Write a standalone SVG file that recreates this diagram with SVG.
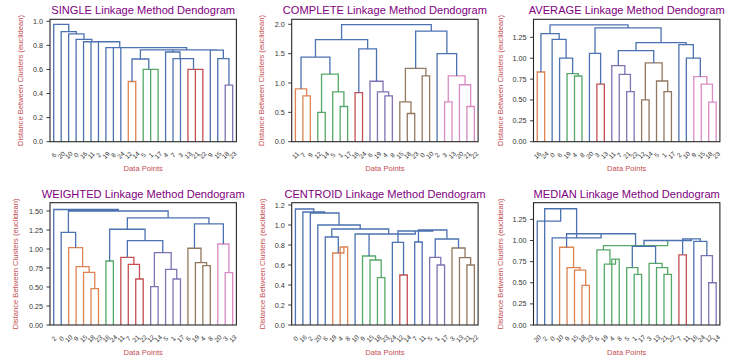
<svg xmlns="http://www.w3.org/2000/svg" width="737" height="364" viewBox="0 0 737 364">
<style>
text{font-family:"Liberation Sans",Arial,sans-serif}
.bg{fill:#fff}
.ax{fill:none;stroke:#262626;stroke-width:1.1}
.tm{fill:none;stroke:#262626;stroke-width:0.9}
.l{fill:none;stroke-width:1.3;vector-effect:non-scaling-stroke}
.c0{stroke:#4C72B0}.c1{stroke:#DD8452}.c2{stroke:#55A868}.c3{stroke:#C44E52}.c4{stroke:#8172B3}.c5{stroke:#937860}.c6{stroke:#DA8BC3}
.t{font-size:11.1px;fill:#800080;text-anchor:middle}
.al{font-size:7.6px;fill:#c44e52;text-anchor:middle}
.tk{font-size:7.2px;fill:#333;text-anchor:end}
.lf{font-size:6.5px;fill:#333;text-anchor:middle;dominant-baseline:central}
</style>
<rect class="bg" width="737" height="364"/>

<!-- SINGLE -->
<g id="single">
<text class="t" x="143.2" y="14.3">SINGLE Linkage Method Dendogram</text>
<g id="single-links" transform="matrix(7.456 0 0 -120.4 53.728 141.7)">
<path class="l c4" d="M23 0V.47H24V0"/>
<path class="l c1" d="M10 0V.5H11V0"/>
<path class="l c2" d="M13 0V.6H14V0M12 0V.6H13.5V.6"/>
<path class="l c3" d="M19 0V.6H20V0M18 0V.6H19.5V.6"/>
<path class="l c0" d="M10.5 .5V.687H12.75V.6M22 0V.69H23.5V.47M17 0V.69H18.75V.6M16 0V.69H17.875V.69M15 0V.745H16.938V.69M21 0V.76H22.75V.69M11.625 .687V.762H15.969V.745M13.797 .762V.762H21.875V.76M9 0V.781H17.836V.762M8 0V.781H13.418V.781M7 0V.781H10.709V.781M6 0V.83H8.855V.781M5 0V.83H7.427V.83M4 0V.83H6.214V.83M3 0V.85H5.107V.83M2 0V.895H4.053V.85M1 0V.914H3.027V.895M0 0V.975H2.013V.914"/>
</g>
<rect class="ax" x="50" y="19.3" width="186.4" height="122.4"/>
<path class="tm" d="M46.5 141.7H50M46.5 117.6H50M46.5 93.5H50M46.5 69.5H50M46.5 45.4H50M46.5 21.3H50"/>
<g class="tk"><text x="43" y="144.2">0.0</text><text x="43" y="120.1">0.2</text><text x="43" y="96">0.4</text><text x="43" y="72">0.6</text><text x="43" y="47.9">0.8</text><text x="43" y="23.8">1.0</text></g>
<text class="al" transform="translate(23.4 80.5) rotate(-90)">Distance Between Clusters (euclidean)</text>
<text class="al" x="143.2" y="171">Data Points</text>
<g class="lf" transform="translate(53.73 155)">
<text transform="translate(0 0) rotate(-45)">6</text><text transform="translate(7.46 0) rotate(-45)">20</text><text transform="translate(14.91 0) rotate(-45)">10</text><text transform="translate(22.37 0) rotate(-45)">0</text><text transform="translate(29.82 0) rotate(-45)">16</text><text transform="translate(37.28 0) rotate(-45)">11</text><text transform="translate(44.74 0) rotate(-45)">2</text><text transform="translate(52.19 0) rotate(-45)">19</text><text transform="translate(59.65 0) rotate(-45)">8</text><text transform="translate(67.1 0) rotate(-45)">24</text><text transform="translate(74.56 0) rotate(-45)">12</text><text transform="translate(82.02 0) rotate(-45)">14</text><text transform="translate(89.47 0) rotate(-45)">5</text><text transform="translate(96.93 0) rotate(-45)">1</text><text transform="translate(104.38 0) rotate(-45)">17</text><text transform="translate(111.84 0) rotate(-45)">4</text><text transform="translate(119.3 0) rotate(-45)">7</text><text transform="translate(126.75 0) rotate(-45)">3</text><text transform="translate(134.21 0) rotate(-45)">13</text><text transform="translate(141.66 0) rotate(-45)">21</text><text transform="translate(149.12 0) rotate(-45)">22</text><text transform="translate(156.58 0) rotate(-45)">9</text><text transform="translate(164.03 0) rotate(-45)">15</text><text transform="translate(171.49 0) rotate(-45)">18</text><text transform="translate(178.94 0) rotate(-45)">23</text>
</g>
</g>

<!-- COMPLETE -->
<g id="complete">
<text class="t" x="384.9" y="14.3">COMPLETE Linkage Method Dendogram</text>
<g id="complete-links" transform="matrix(7.456 0 0 -58.7 295.428 141.7)">
<path class="l c1" d="M1 0V.78H2V0M0 0V.9H1.5V.78"/>
<path class="l c2" d="M3 0V.5H4V0M6 0V.6H7V0M5 0V.85H6.5V.6M3.5 .5V1.15H5.75V.85"/>
<path class="l c3" d="M8 0V.835H9V0"/>
<path class="l c4" d="M12 0V.78H13V0M11 0V.85H12.5V.78M10 0V1.03H11.75V.85"/>
<path class="l c5" d="M15 0V.48H16V0M14 0V.68H15.5V.48M17 0V1.12H18V0M14.75 .68V1.25H17.5V1.12"/>
<path class="l c6" d="M20 0V.68H21V0M23 0V.6H24V0M22 0V.97H23.5V.6M20.5 .68V1.12H22.75V.97"/>
<path class="l c0" d="M.75 .9V1.44H4.625V1.15M8.5 .835V1.58H10.875V1.03M2.688 1.44V1.74H9.688V1.58M19 0V1.5H21.625V1.12M16.125 1.25V1.885H20.313V1.5M6.188 1.74V1.995H18.219V1.885"/>
</g>
<rect class="ax" x="291.7" y="19.3" width="186.4" height="122.4"/>
<path class="tm" d="M288.2 141.7H291.7M288.2 112.35H291.7M288.2 83H291.7M288.2 53.65H291.7M288.2 24.3H291.7"/>
<g class="tk"><text x="284.7" y="144.2">0.0</text><text x="284.7" y="114.85">0.5</text><text x="284.7" y="85.5">1.0</text><text x="284.7" y="56.15">1.5</text><text x="284.7" y="26.8">2.0</text></g>
<text class="al" transform="translate(264.4 80.5) rotate(-90)">Distance Between Clusters (euclidean)</text>
<text class="al" x="384.9" y="171">Data Points</text>
<g class="lf" transform="translate(295.43 155)">
<text transform="translate(0 0) rotate(-45)">11</text><text transform="translate(7.46 0) rotate(-45)">7</text><text transform="translate(14.91 0) rotate(-45)">9</text><text transform="translate(22.37 0) rotate(-45)">12</text><text transform="translate(29.82 0) rotate(-45)">14</text><text transform="translate(37.28 0) rotate(-45)">5</text><text transform="translate(44.74 0) rotate(-45)">1</text><text transform="translate(52.19 0) rotate(-45)">17</text><text transform="translate(59.65 0) rotate(-45)">16</text><text transform="translate(67.1 0) rotate(-45)">24</text><text transform="translate(74.56 0) rotate(-45)">6</text><text transform="translate(82.02 0) rotate(-45)">19</text><text transform="translate(89.47 0) rotate(-45)">4</text><text transform="translate(96.93 0) rotate(-45)">8</text><text transform="translate(104.38 0) rotate(-45)">15</text><text transform="translate(111.84 0) rotate(-45)">18</text><text transform="translate(119.3 0) rotate(-45)">23</text><text transform="translate(126.75 0) rotate(-45)">0</text><text transform="translate(134.21 0) rotate(-45)">10</text><text transform="translate(141.66 0) rotate(-45)">2</text><text transform="translate(149.12 0) rotate(-45)">3</text><text transform="translate(156.58 0) rotate(-45)">13</text><text transform="translate(164.03 0) rotate(-45)">20</text><text transform="translate(171.49 0) rotate(-45)">21</text><text transform="translate(178.94 0) rotate(-45)">22</text>
</g>
</g>

<!-- AVERAGE -->
<g id="average">
<text class="t" x="626.7" y="14.3">AVERAGE Linkage Method Dendogram</text>
<g id="average-links" transform="matrix(7.456 0 0 -83.5 537.228 141.7)">
<path class="l c1" d="M0 0V.835H1V0"/>
<path class="l c2" d="M5 0V.787H6V0M4 0V.815H5.5V.787"/>
<path class="l c3" d="M8 0V.69H9V0"/>
<path class="l c4" d="M12 0V.6H13V0M11 0V.807H12.5V.6M10 0V.91H11.75V.807"/>
<path class="l c5" d="M14 0V.5H15V0M17 0V.6H18V0M16 0V.727H17.5V.6M14.5 .5V.943H16.75V.727"/>
<path class="l c6" d="M23 0V.475H24V0M22 0V.69H23.5V.475M21 0V.779H22.75V.69"/>
<path class="l c0" d="M3 0V1H4.75V.815M2 0V1.226H3.875V1M.5 .835V1.294H2.938V1.226M7 0V1.058H8.5V.69M10.875 .91V1.09H15.625V.943M20 0V1H21.875V.779M19 0V1.162H20.938V1M13.25 1.09V1.186H19.969V1.162M7.75 1.058V1.362H16.609V1.186M1.719 1.294V1.4H12.18V1.362"/>
</g>
<rect class="ax" x="533.5" y="19.3" width="186.4" height="122.4"/>
<path class="tm" d="M530 141.7H533.5M530 120.8H533.5M530 99.95H533.5M530 79.1H533.5M530 58.2H533.5M530 37.3H533.5"/>
<g class="tk"><text x="526.5" y="144.2">0.00</text><text x="526.5" y="123.3">0.25</text><text x="526.5" y="102.45">0.50</text><text x="526.5" y="81.6">0.75</text><text x="526.5" y="60.7">1.00</text><text x="526.5" y="39.8">1.25</text></g>
<text class="al" transform="translate(502.7 80.5) rotate(-90)">Distance Between Clusters (euclidean)</text>
<text class="al" x="626.7" y="171">Data Points</text>
<g class="lf" transform="translate(537.23 155)">
<text transform="translate(0 0) rotate(-45)">16</text><text transform="translate(7.46 0) rotate(-45)">24</text><text transform="translate(14.91 0) rotate(-45)">0</text><text transform="translate(22.37 0) rotate(-45)">6</text><text transform="translate(29.82 0) rotate(-45)">19</text><text transform="translate(37.28 0) rotate(-45)">4</text><text transform="translate(44.74 0) rotate(-45)">8</text><text transform="translate(52.19 0) rotate(-45)">20</text><text transform="translate(59.65 0) rotate(-45)">3</text><text transform="translate(67.1 0) rotate(-45)">13</text><text transform="translate(74.56 0) rotate(-45)">11</text><text transform="translate(82.02 0) rotate(-45)">7</text><text transform="translate(89.47 0) rotate(-45)">21</text><text transform="translate(96.93 0) rotate(-45)">22</text><text transform="translate(104.38 0) rotate(-45)">12</text><text transform="translate(111.84 0) rotate(-45)">14</text><text transform="translate(119.3 0) rotate(-45)">5</text><text transform="translate(126.75 0) rotate(-45)">1</text><text transform="translate(134.21 0) rotate(-45)">17</text><text transform="translate(141.66 0) rotate(-45)">2</text><text transform="translate(149.12 0) rotate(-45)">10</text><text transform="translate(156.58 0) rotate(-45)">9</text><text transform="translate(164.03 0) rotate(-45)">15</text><text transform="translate(171.49 0) rotate(-45)">18</text><text transform="translate(178.94 0) rotate(-45)">23</text>
</g>
</g>

<!-- WEIGHTED -->
<g id="weighted">
<text class="t" x="143.2" y="198.2">WEIGHTED Linkage Method Dendogram</text>
<g id="weighted-links" transform="matrix(7.456 0 0 -76 53.728 325)">
<path class="l c1" d="M5 0V.478H6V0M4 0V.693H5.5V.478M3 0V.767H4.75V.693M2 0V1.017H3.875V.767"/>
<path class="l c2" d="M7 0V.842H8V0"/>
<path class="l c3" d="M11 0V.605H12V0M10 0V.798H11.5V.605M9 0V.89H10.75V.798"/>
<path class="l c4" d="M13 0V.504H14V0M16 0V.605H17V0M15 0V.732H16.5V.605M13.5 .504V.952H15.75V.732"/>
<path class="l c5" d="M20 0V.78H21V0M19 0V.82H20.5V.78M18 0V1.01H19.75V.82"/>
<path class="l c6" d="M23 0V.69H24V0M22 0V1.066H23.5V.69"/>
<path class="l c0" d="M1 0V1.22H2.938V1.017M9.875 .89V1.11H14.625V.952M7.5 .842V1.26H12.25V1.11M18.875 1.01V1.33H22.75V1.066M9.875 1.26V1.41H20.813V1.33M1.969 1.22V1.5H15.344V1.41M0 0V1.52H8.656V1.5"/>
</g>
<rect class="ax" x="50" y="202.7" width="186.4" height="122.3"/>
<path class="tm" d="M46.5 325H50M46.5 306H50M46.5 287H50M46.5 268H50M46.5 249H50M46.5 230H50M46.5 211H50"/>
<g class="tk"><text x="43" y="327.5">0.00</text><text x="43" y="308.5">0.25</text><text x="43" y="289.5">0.50</text><text x="43" y="270.5">0.75</text><text x="43" y="251.5">1.00</text><text x="43" y="232.5">1.25</text><text x="43" y="213.5">1.50</text></g>
<text class="al" transform="translate(18.4 263.9) rotate(-90)">Distance Between Clusters (euclidean)</text>
<text class="al" x="143.2" y="354.5">Data Points</text>
<g class="lf" transform="translate(53.73 338.5)">
<text transform="translate(0 0) rotate(-45)">2</text><text transform="translate(7.46 0) rotate(-45)">0</text><text transform="translate(14.91 0) rotate(-45)">10</text><text transform="translate(22.37 0) rotate(-45)">9</text><text transform="translate(29.82 0) rotate(-45)">15</text><text transform="translate(37.28 0) rotate(-45)">18</text><text transform="translate(44.74 0) rotate(-45)">23</text><text transform="translate(52.19 0) rotate(-45)">16</text><text transform="translate(59.65 0) rotate(-45)">24</text><text transform="translate(67.1 0) rotate(-45)">11</text><text transform="translate(74.56 0) rotate(-45)">7</text><text transform="translate(82.02 0) rotate(-45)">21</text><text transform="translate(89.47 0) rotate(-45)">22</text><text transform="translate(96.93 0) rotate(-45)">12</text><text transform="translate(104.38 0) rotate(-45)">14</text><text transform="translate(111.84 0) rotate(-45)">5</text><text transform="translate(119.3 0) rotate(-45)">1</text><text transform="translate(126.75 0) rotate(-45)">17</text><text transform="translate(134.21 0) rotate(-45)">6</text><text transform="translate(141.66 0) rotate(-45)">19</text><text transform="translate(149.12 0) rotate(-45)">4</text><text transform="translate(156.58 0) rotate(-45)">8</text><text transform="translate(164.03 0) rotate(-45)">20</text><text transform="translate(171.49 0) rotate(-45)">3</text><text transform="translate(178.94 0) rotate(-45)">13</text>
</g>
</g>

<!-- CENTROID -->
<g id="centroid">
<text class="t" x="384.9" y="198.2">CENTROID Linkage Method Dendogram</text>
<g id="centroid-links" transform="matrix(7.456 0 0 -100 295.428 325)">
<path class="l c1" d="M6 0V.78H7V0M5 0V.72H6.5V.78"/>
<path class="l c2" d="M11 0V.473H12V0M10 0V.65H11.5V.473M9 0V.69H10.75V.65"/>
<path class="l c3" d="M14 0V.5H15V0"/>
<path class="l c4" d="M19 0V.6H20V0M18 0V.677H19.5V.6"/>
<path class="l c5" d="M23 0V.6H24V0M22 0V.673H23.5V.6M21 0V.77H22.75V.673"/>
<path class="l c0" d="M4 0V.88H5.75V.72M8 0V.91H9.875V.69M13 0V.827H14.5V.5M16 0V.83H17V0M18.75 .677V.86H21.875V.77M16.5 .83V.95H20.313V.86M13.75 .827V.94H18.406V.95M8.938 .91V.91H16.078V.94M4.875 .88V.96H12.508V.91M3 0V1H8.692V.96M2 0V1.12H5.846V1M1 0V1.13H3.923V1.12M0 0V1.16H2.462V1.13"/>
</g>
<rect class="ax" x="291.7" y="202.7" width="186.4" height="122.3"/>
<path class="tm" d="M288.2 325H291.7M288.2 305H291.7M288.2 285H291.7M288.2 265H291.7M288.2 245H291.7M288.2 225H291.7M288.2 205H291.7"/>
<g class="tk"><text x="284.7" y="327.5">0.0</text><text x="284.7" y="307.5">0.2</text><text x="284.7" y="287.5">0.4</text><text x="284.7" y="267.5">0.6</text><text x="284.7" y="247.5">0.8</text><text x="284.7" y="227.5">1.0</text><text x="284.7" y="207.5">1.2</text></g>
<text class="al" transform="translate(265 263.9) rotate(-90)">Distance Between Clusters (euclidean)</text>
<text class="al" x="384.9" y="354.5">Data Points</text>
<g class="lf" transform="translate(295.43 338.5)">
<text transform="translate(0 0) rotate(-45)">0</text><text transform="translate(7.46 0) rotate(-45)">16</text><text transform="translate(14.91 0) rotate(-45)">2</text><text transform="translate(22.37 0) rotate(-45)">20</text><text transform="translate(29.82 0) rotate(-45)">6</text><text transform="translate(37.28 0) rotate(-45)">19</text><text transform="translate(44.74 0) rotate(-45)">4</text><text transform="translate(52.19 0) rotate(-45)">8</text><text transform="translate(59.65 0) rotate(-45)">10</text><text transform="translate(67.1 0) rotate(-45)">9</text><text transform="translate(74.56 0) rotate(-45)">15</text><text transform="translate(82.02 0) rotate(-45)">18</text><text transform="translate(89.47 0) rotate(-45)">23</text><text transform="translate(96.93 0) rotate(-45)">24</text><text transform="translate(104.38 0) rotate(-45)">12</text><text transform="translate(111.84 0) rotate(-45)">14</text><text transform="translate(119.3 0) rotate(-45)">7</text><text transform="translate(126.75 0) rotate(-45)">11</text><text transform="translate(134.21 0) rotate(-45)">5</text><text transform="translate(141.66 0) rotate(-45)">1</text><text transform="translate(149.12 0) rotate(-45)">17</text><text transform="translate(156.58 0) rotate(-45)">3</text><text transform="translate(164.03 0) rotate(-45)">13</text><text transform="translate(171.49 0) rotate(-45)">21</text><text transform="translate(178.94 0) rotate(-45)">22</text>
</g>
</g>

<!-- MEDIAN -->
<g id="median">
<text class="t" x="626.7" y="198.2">MEDIAN Linkage Method Dendogram</text>
<g id="median-links" transform="matrix(7.456 0 0 -84.5 537.228 325)">
<path class="l c1" d="M6 0V.47H7V0M5 0V.65H6.5V.47M4 0V.68H5.75V.65M3 0V.92H4.875V.68"/>
<path class="l c2" d="M10 0V.78H11V0M9 0V.72H10.5V.78M8 0V.89H9.75V.72M13 0V.6H14V0M12 0V.68H13.5V.6M17 0V.6H18V0M16 0V.68H17.5V.6M15 0V.73H16.75V.68M8.875 .89V.94H17.5V1"/>
<path class="l c3" d="M19 0V.83H20V0"/>
<path class="l c4" d="M23 0V.5H24V0M22 0V.82H23.5V.5"/>
<path class="l c0" d="M12.75 .68V.93H15.875V.73M21 0V.99H22.75V.82M19.5 .83V1.02H21.875V.99M14.313 .93V1H20.688V1.02M3.938 .92V1.08H13.188V.94M2 0V1.03H8.563V1.08M1 0V1.376H5.281V1.03M0 0V1.23H3.141V1.376"/>
</g>
<rect class="ax" x="533.5" y="202.7" width="186.4" height="122.3"/>
<path class="tm" d="M530 325H533.5M530 303.9H533.5M530 282.75H533.5M530 261.6H533.5M530 240.5H533.5M530 219.4H533.5"/>
<g class="tk"><text x="526.5" y="327.5">0.00</text><text x="526.5" y="306.4">0.25</text><text x="526.5" y="285.25">0.50</text><text x="526.5" y="264.1">0.75</text><text x="526.5" y="243">1.00</text><text x="526.5" y="221.9">1.25</text></g>
<text class="al" transform="translate(502.7 263.9) rotate(-90)">Distance Between Clusters (euclidean)</text>
<text class="al" x="626.7" y="354.5">Data Points</text>
<g class="lf" transform="translate(537.23 338.5)">
<text transform="translate(0 0) rotate(-45)">20</text><text transform="translate(7.46 0) rotate(-45)">2</text><text transform="translate(14.91 0) rotate(-45)">0</text><text transform="translate(22.37 0) rotate(-45)">10</text><text transform="translate(29.82 0) rotate(-45)">9</text><text transform="translate(37.28 0) rotate(-45)">15</text><text transform="translate(44.74 0) rotate(-45)">18</text><text transform="translate(52.19 0) rotate(-45)">23</text><text transform="translate(59.65 0) rotate(-45)">6</text><text transform="translate(67.1 0) rotate(-45)">19</text><text transform="translate(74.56 0) rotate(-45)">4</text><text transform="translate(82.02 0) rotate(-45)">8</text><text transform="translate(89.47 0) rotate(-45)">5</text><text transform="translate(96.93 0) rotate(-45)">1</text><text transform="translate(104.38 0) rotate(-45)">17</text><text transform="translate(111.84 0) rotate(-45)">3</text><text transform="translate(119.3 0) rotate(-45)">13</text><text transform="translate(126.75 0) rotate(-45)">21</text><text transform="translate(134.21 0) rotate(-45)">22</text><text transform="translate(141.66 0) rotate(-45)">7</text><text transform="translate(149.12 0) rotate(-45)">11</text><text transform="translate(156.58 0) rotate(-45)">16</text><text transform="translate(164.03 0) rotate(-45)">24</text><text transform="translate(171.49 0) rotate(-45)">12</text><text transform="translate(178.94 0) rotate(-45)">14</text>
</g>
</g>
</svg>
